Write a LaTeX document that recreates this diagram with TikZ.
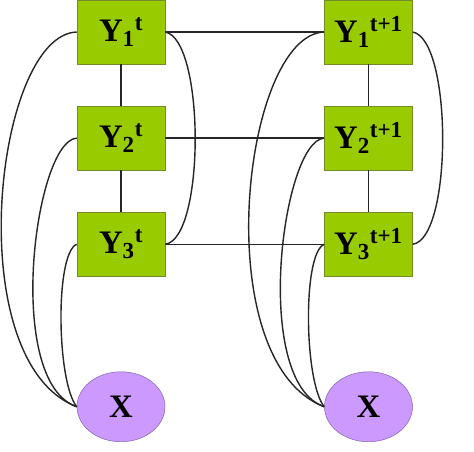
\documentclass[tikz,border=0pt]{standalone}
\usepackage{fontspec}
\setmainfont{Liberation Serif}
\usetikzlibrary{shapes.geometric,positioning}
\definecolor{boxgreen}{RGB}{153,204,0}
\definecolor{boxedge}{RGB}{115,140,40}
\definecolor{xpurple}{RGB}{204,153,255}
\definecolor{xedge}{RGB}{125,95,165}

\begin{document}
\begin{tikzpicture}[
    x=0.03cm, y=-0.03cm,
    node distance=1.25cm,
    var/.style={rectangle, draw=boxedge, fill=boxgreen, minimum width=2.64cm, minimum height=1.92cm, inner sep=0pt, font=\fontsize{28}{32}\selectfont\bfseries},
    obs/.style={ellipse, draw=xedge, fill=xpurple, minimum width=2.64cm, minimum height=2.1cm, inner sep=0pt, font=\fontsize{28}{32}\selectfont\bfseries},
    link/.style={line width=1.2pt, color=black!85}
]
    \useasboundingbox (0,0) rectangle (474,452);

    % Slice t
    \node[var]                      (y1t) at (121,32) {Y\textsubscript{1}\textsuperscript{t}};
    \node[var, below=of y1t]        (y2t) {Y\textsubscript{2}\textsuperscript{t}};
    \node[var, below=of y2t]        (y3t) {Y\textsubscript{3}\textsuperscript{t}};
    \node[obs, below=2.85cm of y3t] (xt)  {X};

    % Slice t+1
    \node[var, right=4.77cm of y1t] (y1n) {Y\textsubscript{1}\textsuperscript{t+1}};
    \node[var, below=of y1n]        (y2n) {Y\textsubscript{2}\textsuperscript{t+1}};
    \node[var, below=of y2n]        (y3n) {Y\textsubscript{3}\textsuperscript{t+1}};
    \node[obs, below=2.85cm of y3n] (xn)  {X};

    % Chains inside each slice
    \draw[link] (y1t) -- (y2t);
    \draw[link] (y2t) -- (y3t);
    \draw[link] (y1n) -- (y2n);
    \draw[link] (y2n) -- (y3n);

    % Links across time
    \draw[link] (y1t.east) -- (y1n.west);
    \draw[link] (y2t.east) -- (y2n.west);
    \draw[link] (y3t.east) -- (y3n.west);

    % X to every Y, slice t
    \draw[link] (y1t.west) to[out=182, in=159, out distance=2.46cm, in distance=3.79cm] (xt.west);
    \draw[link] (y2t.west) to[out=183, in=161, out distance=1.26cm, in distance=2.32cm] (xt.west);
    \draw[link] (y3t.west) to[out=202, in=129, out distance=0.71cm, in distance=0.96cm] (xt.west);
    \draw[link] (y1t.east) to[out=-11, in=8, out distance=1.22cm, in distance=1.21cm] (y3t.east);

    % X to every Y, slice t+1
    \draw[link] (y1n.west) to[out=182, in=159, out distance=2.46cm, in distance=3.79cm] (xn.west);
    \draw[link] (y2n.west) to[out=183, in=161, out distance=1.26cm, in distance=2.32cm] (xn.west);
    \draw[link] (y3n.west) to[out=202, in=129, out distance=0.71cm, in distance=0.96cm] (xn.west);
    \draw[link] (y1n.east) to[out=-11, in=8, out distance=1.22cm, in distance=1.21cm] (y3n.east);

\end{tikzpicture}
\end{document}
